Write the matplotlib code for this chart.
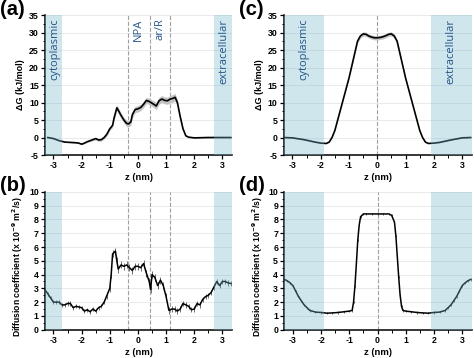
import matplotlib
matplotlib.use("Agg")
import matplotlib.pyplot as plt
import matplotlib.ticker as ticker
import numpy as np

plt.rcParams['font.family'] = ['Liberation Sans', 'DejaVu Sans']

# (a) free energy profile, channel with NPA / ar/R sites
z_a = [-3.2, -3.0, -2.8, -2.6, -2.4, -2.2, -2.1, -2.0, -1.9, -1.8, -1.7, -1.6, -1.5,
       -1.4, -1.3, -1.2, -1.1, -1.0, -0.9, -0.85, -0.75, -0.7, -0.6, -0.5, -0.4, -0.33,
       -0.25, -0.2, -0.1, 0.0, 0.1, 0.2, 0.3, 0.4, 0.5, 0.6, 0.65, 0.75, 0.85, 0.95,
       1.05, 1.15, 1.25, 1.32, 1.4, 1.5, 1.6, 1.7, 1.8, 2.0, 2.5, 3.0, 3.3]
dg_a = [0.0, -0.3, -0.9, -1.3, -1.4, -1.5, -1.6, -1.9, -1.6, -1.2, -0.9, -0.6, -0.3,
        -0.7, -0.6, 0.0, 1.0, 2.5, 3.5, 5.5, 8.5, 7.8, 6.3, 5.0, 4.0, 3.9,
        4.5, 6.5, 8.0, 8.2, 8.6, 9.5, 10.6, 10.3, 9.8, 9.3, 9.0, 10.5, 11.0, 10.6,
        10.5, 11.0, 11.2, 11.5, 10.0, 6.0, 2.5, 0.5, 0.1, -0.1, 0.0, 0.0, 0.0]
err_a = [0.1, 0.1, 0.1, 0.1, 0.1, 0.1, 0.2, 0.2, 0.2, 0.2, 0.3, 0.3, 0.4,
         0.4, 0.4, 0.4, 0.5, 0.5, 0.6, 0.7, 0.8, 0.8, 0.8, 0.8, 0.9, 0.9,
         0.9, 0.9, 0.9, 0.9, 0.9, 0.9, 0.9, 0.9, 0.9, 1.0, 1.0, 1.0, 1.0, 1.0,
         1.0, 1.1, 1.1, 1.1, 0.9, 0.6, 0.3, 0.2, 0.1, 0.1, 0.1, 0.1, 0.1]

# (b) diffusion coefficient, same channel
z_b = [-3.3, -3.2, -3.1, -3.0, -2.9, -2.8, -2.7, -2.6, -2.5, -2.4, -2.3, -2.2, -2.1,
       -2.0, -1.9, -1.8, -1.7, -1.6, -1.5, -1.4, -1.3, -1.2, -1.1, -1.0, -0.95, -0.9,
       -0.8, -0.75, -0.7, -0.6, -0.5, -0.4, -0.3, -0.2, -0.1, 0.0, 0.1, 0.2, 0.3,
       0.4, 0.45, 0.5, 0.6, 0.7, 0.8, 0.9, 1.0, 1.1, 1.2, 1.3, 1.4, 1.5, 1.6, 1.7,
       1.8, 1.9, 2.0, 2.1, 2.2, 2.3, 2.4, 2.5, 2.6, 2.7, 2.8, 2.9, 3.0, 3.1, 3.2, 3.3]
d_b = [2.9, 2.6, 2.3, 2.0, 2.0, 2.0, 1.8, 1.8, 1.9, 1.9, 1.6, 1.7, 1.65,
       1.6, 1.35, 1.45, 1.3, 1.5, 1.35, 1.6, 1.7, 2.0, 2.5, 3.0, 4.0, 5.5,
       5.7, 5.0, 4.4, 4.7, 4.6, 4.7, 4.5, 4.3, 4.6, 4.6, 4.5, 4.8, 4.1,
       3.5, 2.9, 4.0, 3.8, 3.2, 3.6, 3.2, 2.4, 1.4, 1.5, 1.5, 1.35, 1.5, 1.9, 1.8,
       1.7, 1.45, 1.5, 1.9, 1.8, 2.2, 2.4, 2.5, 2.7, 3.1, 3.5, 3.2, 3.5, 3.5, 3.4, 3.35]
derr_b = [0.15] * 22 + [0.25] * 28 + [0.2] * 20

# (c) free energy profile, symmetric barrier
z_c = [-3.3, -3.0, -2.6, -2.2, -2.0, -1.8, -1.7, -1.6, -1.5, -1.4, -1.3, -1.2, -1.1,
       -1.0, -0.9, -0.8, -0.7, -0.6, -0.5, -0.4, -0.3, -0.2, -0.1, 0.0, 0.1, 0.2,
       0.3, 0.4, 0.5, 0.6, 0.7, 0.8, 0.9, 1.0, 1.1, 1.2, 1.3, 1.4, 1.5, 1.6, 1.7,
       1.8, 2.0, 2.2, 2.6, 3.0, 3.3]
dg_c = [0.0, -0.1, -0.6, -1.3, -1.6, -1.7, -1.3, 0.0, 2.0, 5.0, 8.0, 11.0, 14.0,
        17.0, 20.5, 24.0, 27.5, 29.0, 29.6, 29.5, 29.0, 28.7, 28.5, 28.5, 28.6, 28.8,
        29.1, 29.5, 29.6, 29.0, 27.5, 24.0, 20.5, 17.0, 14.0, 11.0, 8.0, 5.0, 2.0, 0.0, -1.3,
        -1.7, -1.6, -1.4, -0.7, -0.1, 0.0]
err_c = [0.05] * 14 + [0.3, 0.4, 0.5, 0.6, 0.6, 0.6, 0.6, 0.6, 0.6, 0.6, 0.6, 0.6,
                       0.6, 0.6, 0.6, 0.6, 0.5, 0.4, 0.3] + [0.05] * 14

# (d) diffusion coefficient, symmetric channel
z_d = [-3.3, -3.2, -3.1, -3.0, -2.9, -2.8, -2.7, -2.6, -2.5, -2.4, -2.2, -2.0, -1.8,
       -1.6, -1.4, -1.2, -1.0, -0.9, -0.85, -0.8, -0.75, -0.7, -0.65, -0.6, -0.5,
       -0.4, -0.2, 0.0, 0.2, 0.4, 0.5, 0.6, 0.65, 0.7, 0.75, 0.8, 0.85, 0.9, 1.0,
       1.2, 1.4, 1.6, 1.8, 2.0, 2.2, 2.4, 2.5, 2.6, 2.7, 2.8, 2.9, 3.0, 3.1, 3.2, 3.3]
d_d = [3.65, 3.55, 3.4, 3.2, 2.8, 2.4, 2.1, 1.8, 1.6, 1.4, 1.28, 1.25, 1.2,
       1.22, 1.25, 1.3, 1.35, 1.4, 2.0, 3.2, 4.8, 6.5, 7.6, 8.2, 8.4,
       8.4, 8.4, 8.4, 8.4, 8.4, 8.3, 7.8, 6.8, 5.3, 3.8, 2.5, 1.7, 1.4, 1.35,
       1.3, 1.25, 1.22, 1.2, 1.25, 1.28, 1.4, 1.6, 1.8, 2.1, 2.4, 2.8, 3.2, 3.4, 3.55, 3.65]
derr_d = [0.08] * len(z_d)

sites_a = [-0.37, 0.43, 1.15]
site_names = ["NPA", "ar/R"]

# translucent blue over white gives ~#cfe6ee, over the black line a dark slate
shade = (118 / 255, 184 / 255, 206 / 255)
txt_blue = "#24548a"

fig = plt.figure(figsize=(4.74, 3.58), dpi=100)
ax_a = fig.add_axes([0.095, 0.567, 0.395, 0.391])
ax_b = fig.add_axes([0.095, 0.079, 0.395, 0.385])
ax_c = fig.add_axes([0.599, 0.567, 0.397, 0.391])
ax_d = fig.add_axes([0.600, 0.079, 0.396, 0.385])


def style(ax, ylim, ymaj, ylabel, ylsize):
    ax.set_xlim(-3.3, 3.35)
    ax.set_ylim(*ylim)
    ax.xaxis.set_major_locator(ticker.MultipleLocator(1))
    ax.xaxis.set_minor_locator(ticker.MultipleLocator(0.5))
    ax.yaxis.set_major_locator(ticker.MultipleLocator(ymaj))
    ax.yaxis.set_minor_locator(ticker.MultipleLocator(ymaj / 2))
    ax.xaxis.set_major_formatter(ticker.FuncFormatter(lambda v, p: "%d" % v))
    ax.yaxis.set_major_formatter(ticker.FuncFormatter(lambda v, p: "%d" % v))
    for s in ["top", "right"]:
        ax.spines[s].set_visible(False)
    for s in ["left", "bottom"]:
        ax.spines[s].set_linewidth(1.1)
    ax.tick_params(which="major", length=3, width=0.9, labelsize=6.3, pad=1.5)
    ax.tick_params(which="minor", length=1.8, width=0.7)
    for lab in ax.get_xticklabels() + ax.get_yticklabels():
        lab.set_fontweight("bold")
    ax.grid(axis="y", color="#e6e6e6", lw=0.6)
    ax.set_axisbelow(True)
    ax.set_xlabel("z (nm)", fontsize=6.8, fontweight="bold", labelpad=2)
    ax.set_ylabel(ylabel, fontsize=ylsize, fontweight="bold", labelpad=3)


dg_label = "\u0394G (kJ/mol)"
d_label = r"Diffusion coefficient (x 10$^{\mathbf{-9}}$ m$^{\mathbf{2}}$/s)"

style(ax_a, (-5, 35), 5, dg_label, 6.5)
style(ax_c, (-5, 35), 5, dg_label, 6.5)
style(ax_b, (0, 10), 1, d_label, 6.2)
style(ax_d, (0, 10), 1, d_label, 6.2)
for ax in [ax_b, ax_d]:
    ax.yaxis.set_label_coords(-0.105, 0.455)

# free energy curves with grey uncertainty band
for ax, z, g, e in [(ax_a, z_a, dg_a, err_a), (ax_c, z_c, dg_c, err_c)]:
    z = np.array(z); g = np.array(g); e = np.array(e)
    ax.fill_between(z, g - e, g + e, color="#c4c4c4", lw=0, zorder=2)
    ax.plot(z, g, color="black", lw=1.2, zorder=3)

# diffusion curves with error bars
for ax, z, d, e in [(ax_b, z_b, d_b, derr_b), (ax_d, z_d, d_d, derr_d)]:
    ax.errorbar(z, d, yerr=e, color="black", lw=1.1, elinewidth=0.5,
                ecolor="#333333", capsize=0, zorder=3)

# membrane-water regions
for ax, edge in [(ax_a, 2.7), (ax_b, 2.7), (ax_c, 1.9), (ax_d, 1.9)]:
    ax.axvspan(-3.4, -edge, color=shade, alpha=0.35, lw=0, zorder=4)
    ax.axvspan(edge, 3.4, color=shade, alpha=0.35, lw=0, zorder=4)

for ax in [ax_a, ax_b]:
    for s in sites_a:
        ax.axvline(s, color="#a0a0a0", ls="--", lw=0.8, zorder=1)
for ax in [ax_c, ax_d]:
    ax.axvline(0, color="#a0a0a0", ls="--", lw=0.8, zorder=1)

tkw = dict(rotation=90, va="top", ha="center", color=txt_blue, fontsize=8,
           family="Open Sans", zorder=5)
ax_a.text(-2.95, 34, "cytoplasmic", **tkw)
ax_a.text(3.05, 34, "extracellular", **tkw)
ax_a.text((sites_a[0] + sites_a[1]) / 2, 34, site_names[0], **tkw)
ax_a.text((sites_a[1] + sites_a[2]) / 2, 34, site_names[1], **tkw)
ax_c.text(-2.6, 34, "cytoplasmic", **tkw)
ax_c.text(2.6, 34, "extracellular", **tkw)

for lbl, x, y in [("(a)", 0.0, 1.0), ("(b)", 0.0, 0.508), ("(c)", 0.505, 1.0), ("(d)", 0.505, 0.508)]:
    fig.text(x, y, lbl, fontsize=14.5, fontweight="bold", va="top", ha="left")

fig.savefig("out.png", dpi=100)
